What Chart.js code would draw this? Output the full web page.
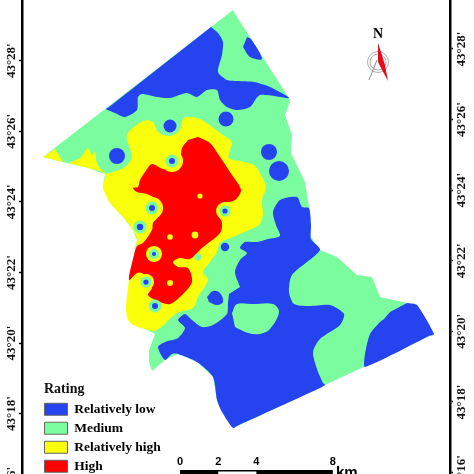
<!DOCTYPE html>
<html>
<head>
<meta charset="utf-8">
<style>
  html, body { margin: 0; padding: 0; background: #fff; overflow: hidden; }
  #wrap { width: 474px; height: 474px; overflow: hidden; }
  canvas { filter: blur(0.35px); }
</style>
<script src="https://cdn.jsdelivr.net/npm/chart.js@4/dist/chart.umd.min.js"></script>
</head>
<body>
<div id="wrap"><canvas id="mapChart" width="474" height="540"></canvas></div>
<script>
// legend
const legendTitle = 'Rating'
const ratingLabels = ['Relatively low', 'Medium', 'Relatively high', 'High']
const ratingColors = ['#2643F0', '#7BFD9F', '#FAFF0A', '#FF0000']

// latitude ticks (minutes past 43 degrees)
const latTicks = [16, 18, 20, 22, 24, 26, 28]

// map zones as [easting, southing] map units
const studyArea = [[43,157],[233,10],[237,17],[289,98],[290,102],[285,115],[292,135],[291,153],[305,182],[309,207],[311,237],[320,250],[337,257],[357,275],[372,277],[380,297],[407,303],[417,305],[434,334],[233,428],[217,400],[213,377],[197,362],[178,354],[165,360],[152,371],[149,362],[149,350],[155,334],[128,320],[129,280],[137,240],[133,230],[123,217],[110,203],[103,187],[105,174],[88,168],[63,162]]

const yellowTip = [[43,157],[55,149],[63,162]]
const yellowZone = [[68,163],[80,158],[88,148],[92,155],[95,152],[97,163],[105,173],[113,172],[125,167],[132,157],[127,135],[143,121],[153,122],[158,132],[170,136],[179,131],[184,118],[197,118],[208,124],[220,133],[232,142],[230,150],[229,158],[240,161],[254,165],[261,175],[266,187],[262,200],[263,215],[259,225],[247,231],[233,237],[220,243],[217,252],[210,262],[203,272],[208,280],[198,297],[193,308],[177,313],[160,328],[152,331],[128,320],[129,280],[137,240],[133,230],[123,217],[110,203],[103,187],[105,174],[88,168]]

const redZone = [[198,137],[210,143],[220,157],[232,175],[241,190],[235,200],[222,204],[218,213],[222,223],[220,233],[202,248],[190,259],[180,258],[173,262],[178,267],[188,268],[192,282],[182,295],[170,304],[160,302],[148,295],[152,288],[150,282],[142,273],[137,273],[129,280],[134,255],[137,246],[143,243],[152,230],[153,223],[158,217],[160,208],[157,200],[147,194],[137,192],[133,188],[138,187],[140,180],[145,172],[152,164],[163,169],[173,169],[180,162],[182,148],[188,140]]

const blueNorth = [[211,27],[218,33],[223,42],[222,55],[218,72],[227,80],[237,81],[254,82],[270,87],[289,98],[260,95],[250,107],[237,110],[227,107],[220,100],[217,90],[207,90],[197,97],[187,93],[170,98],[157,97],[142,94],[138,97],[137,110],[125,117],[115,113],[106,109],[109,107]]
const blueNorthEast = [[247,37],[251,39],[262,59],[250,57],[243,47]]
const blueSouth = [[240,287],[235,272],[240,260],[247,253],[240,248],[245,242],[257,242],[268,239],[280,236],[276,225],[273,212],[280,200],[297,197],[302,207],[309,208],[311,225],[311,239],[320,250],[292,275],[289,292],[294,304],[309,306],[330,305],[344,314],[340,325],[320,339],[313,352],[317,369],[323,383],[325,385],[320,388],[237,426],[233,428],[222,412],[217,400],[213,377],[197,362],[178,354],[172,354],[165,360],[158,347],[165,342],[178,338],[185,328],[178,320],[185,314],[192,320],[202,327],[213,325],[227,314],[228,303],[229,294]]
const blueBlob = [[207,297],[213,291],[220,293],[223,302],[217,305],[209,302]]
const blueSouthEast = [[407,303],[417,305],[434,334],[429,336],[365,367],[365,354],[370,334],[380,322],[384,319],[390,312]]
const greenIsland = [[232,313],[237,304],[253,304],[273,304],[279,312],[270,329],[260,334],[248,333],[235,327]]

// wells as [easting, southing, radius]
const yellowWells = [[172,161,11],[152,208,11],[225,211,9],[154,254,8],[146,282,8]]
const greenWells = [[172,161,6.5],[152,208,6.5],[140,227,6.5],[225,211,5.5],[154,254,5],[146,282,5.5],[155,306,6.5],[198,257,3.5]]
const blueWells = [[117,156,8],[170,126,6.5],[226,119,7.5],[269,152,8],[279,171,10],[172,161,3],[152,208,3],[140,227,3.2],[225,211,2.6],[154,254,2],[146,282,2.6],[155,306,3],[225,247,4.2]]
const dotWells = [[200,196,2.6],[170,237,2.8],[195,235,3.4],[170,283,3]]

// scale bar and north arrow
const scaleKm = [0, 2, 4, 8]
const scaleOriginX = 180
const scaleUnitsPerKm = 19.1
const scaleBarY = 472.5
const northNeedle = [[378,43],[381,52],[385,65],[388,81],[381,68],[378,62]]
const northLeg = [[369,80],[377,60]]
const northRings = [[378,62,10.5],[378,62,8]]

function toPoints(pairs) {
  return pairs.map(function (p) { return { x: p[0], y: p[1] } })
}

function toBubbles(rows) {
  return rows.map(function (r) { return { x: r[0], y: r[1], r: r[2] } })
}

function zone(pairs, color, tension) {
  return {
    data: toPoints(pairs),
    showLine: true,
    fill: 'shape',
    backgroundColor: color,
    borderWidth: 0,
    pointRadius: 0,
    tension: tension
  }
}

function wells(rows, color) {
  return { type: 'bubble', data: toBubbles(rows), backgroundColor: color, borderWidth: 0 }
}

function stroke(pairs, color, width) {
  return { data: toPoints(pairs), showLine: true, fill: false, borderColor: color, borderWidth: width, pointRadius: 0, tension: 0 }
}

function kmToX(km) {
  return scaleOriginX + km * scaleUnitsPerKm
}

// painted bottom to top
const layers = [
  zone(studyArea, ratingColors[1], 0),
  zone(yellowTip, ratingColors[2], 0),
  zone(yellowZone, ratingColors[2], 0.3),
  zone(redZone, ratingColors[3], 0.3),
  wells(yellowWells, ratingColors[2]),
  wells(greenWells, ratingColors[1]),
  zone(blueNorth, ratingColors[0], 0.25),
  zone(blueNorthEast, ratingColors[0], 0.3),
  zone(blueSouth, ratingColors[0], 0.25),
  zone(blueBlob, ratingColors[0], 0.4),
  zone(blueSouthEast, ratingColors[0], 0.2),
  zone(greenIsland, ratingColors[1], 0.35),
  wells(blueWells, ratingColors[0]),
  wells(dotWells, ratingColors[2]),
  { type: 'bubble', data: toBubbles(northRings), backgroundColor: 'rgba(0,0,0,0)', borderColor: '#9a9a9a', borderWidth: 0.8 },
  stroke(northLeg, '#8a8a8a', 1),
  zone(northNeedle, '#E0101A', 0),
  stroke([[kmToX(scaleKm[0]), scaleBarY], [kmToX(scaleKm[3]), scaleBarY]], '#000', 5),
  stroke([[kmToX(scaleKm[1]), scaleBarY + 1.5], [kmToX(scaleKm[2]), scaleBarY + 1.5]], '#fff', 5)
]

// first dataset is drawn last by Chart.js
const datasets = layers.slice().reverse()

// * text that belongs to the map, not to an axis
const mapText = {
  id: 'mapText',
  afterDatasetsDraw: function (chart) {
    const c = chart.ctx
    const x = chart.scales.x
    const y = chart.scales.y
    c.save()
    c.fillStyle = '#000'
    c.textAlign = 'center'
    c.textBaseline = 'alphabetic'
    c.font = 'bold 14px "Liberation Serif"'
    c.fillText('N', x.getPixelForValue(378), y.getPixelForValue(38))
    c.font = 'bold 11px "Liberation Sans"'
    scaleKm.forEach(function (km) {
      c.fillText(String(km), x.getPixelForValue(kmToX(km)), y.getPixelForValue(464.5))
    })
    c.font = 'bold 15px "Liberation Sans"'
    c.textAlign = 'left'
    c.fillText('km', x.getPixelForValue(336), y.getPixelForValue(477))
    c.fillStyle = '#111'
    c.font = 'bold 14px "Liberation Serif"'
    c.fillText(legendTitle, x.getPixelForValue(44), y.getPixelForValue(393))
    c.restore()
  }
}

// * legend sits inside the plot, lower left
const legendPlace = {
  id: 'legendPlace',
  afterLayout: function (chart) {
    const l = chart.legend
    l.left = 39
    l.right = 200
    l.top = 397
    l.bottom = 540
  }
}

function latAxis(position, top, bottom, padding, size) {
  return {
    type: 'linear',
    position: position,
    min: bottom,
    max: top,
    afterFit: function (s) { s.width = size },
    afterBuildTicks: function (s) { s.ticks = latTicks.map(function (v) { return { value: v } }) },
    border: { display: true, color: '#000', width: 2.5 },
    grid: { drawOnChartArea: false, color: '#000', tickLength: 3, tickWidth: 1.5 },
    ticks: {
      autoSkip: false,
      minRotation: 90,
      maxRotation: 90,
      crossAlign: 'center',
      padding: padding,
      color: '#111',
      font: { family: '"Liberation Serif"', size: 13, weight: 'bold' },
      callback: function (v) { return "43°" + v + "'" }
    }
  }
}

const chart = new Chart(document.getElementById('mapChart'), {
  type: 'scatter',
  data: { datasets: datasets },
  plugins: [mapText, legendPlace],
  options: {
    responsive: false,
    animation: false,
    events: [],
    layout: { padding: 0, autoPadding: false },
    scales: {
      x: { type: 'linear', min: 22, max: 450, display: false },
      y: { type: 'linear', min: 0, max: 540, reverse: true, display: false },
      latLeft: latAxis('left', 29.72, 14.42, -10, 22),
      latRight: latAxis('right', 29.388, 14.09, -9, 24)
    },
    plugins: {
      tooltip: { enabled: false },
      legend: {
        position: 'chartArea',
        align: 'start',
        labels: {
          boxWidth: 23,
          boxHeight: 12,
          padding: 5.5,
          color: '#111',
          font: { family: '"Liberation Serif"', size: 13.5, weight: 'bold' },
          generateLabels: function () {
            return ratingLabels.map(function (text, i) {
              return { text: text, fillStyle: ratingColors[i], strokeStyle: '#666', lineWidth: 1, datasetIndex: i }
            })
          }
        }
      }
    }
  }
})
</script>
</body>
</html>
